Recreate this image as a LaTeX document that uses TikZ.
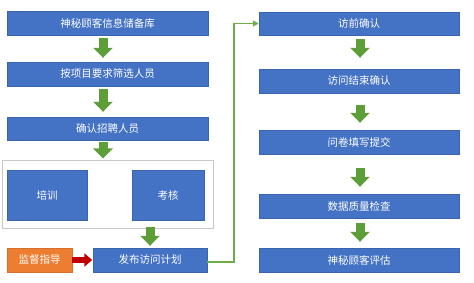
\documentclass[tikz,border=0pt]{standalone}
\usepackage{fontspec}
\newfontfamily\cjk{Noto Sans CJK SC}
\usetikzlibrary{arrows.meta,calc}
\definecolor{boxblue}{HTML}{4472C4}
\definecolor{boxedge}{HTML}{3B64AE}
\definecolor{arrgreen}{HTML}{5E9E38}
\definecolor{linegreen}{HTML}{70AD47}
\definecolor{orangebox}{HTML}{ED7D31}
\definecolor{redarrow}{HTML}{C00000}
\definecolor{framegray}{HTML}{C8C8C8}
\begin{document}
\begin{tikzpicture}[x=1pt,y=-1pt,
  bluebox/.style={rectangle,fill=boxblue,draw=boxedge,line width=0.4pt,text=white,
    font=\cjk\fontsize{10.5}{12}\selectfont,inner sep=0pt,minimum height=24pt},
  orbox/.style={rectangle,fill=orangebox,draw=orangebox!90!black,line width=0.4pt,text=white,
    font=\cjk\fontsize{10.5}{12}\selectfont,inner sep=0pt,minimum height=24pt},
  blockarrow/.style={draw=arrgreen,line width=9pt,
    -{Triangle[width=19pt,length=10pt]}},
  redblock/.style={draw=redarrow,line width=6pt,
    -{Triangle[width=13pt,length=8pt]}},
  flowline/.style={draw=linegreen,line width=1.5pt,-{Triangle[width=6pt,length=6pt]}}
]
\useasboundingbox (0,0) rectangle (474,283);
\fill[white] (0,0) rectangle (474,283);
% left column
\node[bluebox,minimum width=201pt] (l1) at (107.5,23) {神秘顾客信息储备库};
\node[bluebox,minimum width=201pt] (l2) at (107.5,74) {按项目要求筛选人员};
\node[bluebox,minimum width=201pt,minimum height=23pt] (l3) at (107.5,128.5) {确认招聘人员};
\node[rectangle,draw=framegray,line width=1pt,minimum width=211pt,minimum height=68pt,inner sep=0pt] (grp) at (107.5,195) {};
\node[bluebox,minimum width=80pt,minimum height=50pt] (px) at (47,195) {培训};
\node[bluebox,minimum width=72pt,minimum height=50pt] (kh) at (168,195) {考核};
\node[orbox,minimum width=65pt] (jd) at (39.5,260) {监督指导};
\node[bluebox,minimum width=114pt] (fb) at (150,260) {发布访问计划};
% right column
\node[bluebox,minimum width=200pt,minimum height=23pt] (r1) at (359,23.5) {访前确认};
\node[bluebox,minimum width=200pt] (r2) at (359,81) {访问结束确认};
\node[bluebox,minimum width=200pt] (r3) at (359,142) {问卷填写提交};
\node[bluebox,minimum width=200pt] (r4) at (359,206) {数据质量检查};
\node[bluebox,minimum width=200pt] (r5) at (359,260) {神秘顾客评估};
% block arrows left
\draw[blockarrow,shorten <=3pt,shorten >=4pt] ([xshift=-4.5pt]l1.south) -- ([xshift=-4.5pt]l2.north);
\draw[blockarrow,shorten <=3pt,shorten >=5pt] ([xshift=-4.5pt]l2.south) -- ([xshift=-4.5pt]l3.north);
\draw[blockarrow,shorten <=2pt,shorten >=2pt] ([xshift=-4.5pt]l3.south) -- ([xshift=-4.5pt]l3.south |- grp.north);
\draw[blockarrow,shorten <=-2pt,shorten >=2pt] (fb.north |- grp.south) -- (fb.north);
% block arrows right
\draw[blockarrow,shorten <=4pt,shorten >=11pt] ([xshift=1pt]r1.south) -- ([xshift=1pt]r2.north);
\draw[blockarrow,shorten <=12pt,shorten >=7pt] ([xshift=1pt]r2.south) -- ([xshift=1pt]r3.north);
\draw[blockarrow,shorten <=14pt,shorten >=7pt] ([xshift=1pt]r3.south) -- ([xshift=1pt]r4.north);
\draw[blockarrow,shorten <=5pt,shorten >=6pt] ([xshift=1pt]r4.south) -- ([xshift=1pt]r5.north);
% red arrow
\draw[redblock,shorten >=0.5pt] (jd.east) -- (fb.west);
% green flow line
\coordinate (bend) at (234,0);
\draw[flowline] ([yshift=-2pt]fb.east) -| (bend |- r1.west) -- (r1.west);
\end{tikzpicture}
\end{document}
